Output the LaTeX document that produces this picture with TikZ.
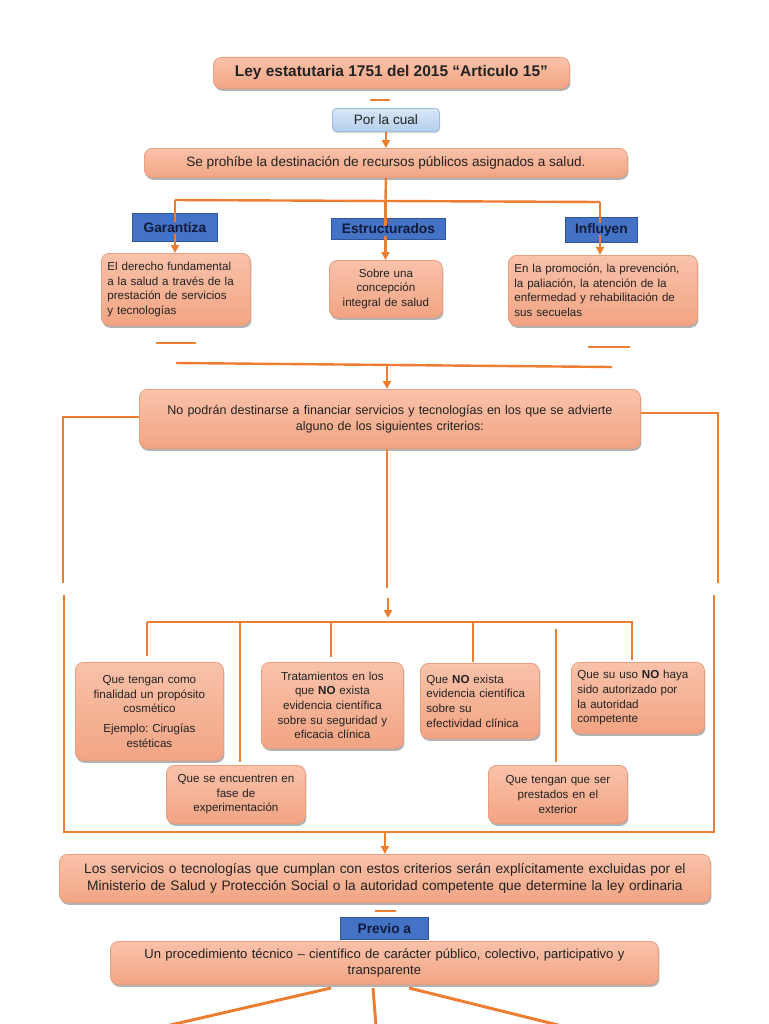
\documentclass[tikz,border=0pt]{standalone}
\usepackage{fontspec}
\setmainfont{Liberation Sans}
\usetikzlibrary{arrows.meta,shadows,calc}
\definecolor{lor}{HTML}{ED7D31}
\definecolor{boxtop}{HTML}{F9C2AA}
\definecolor{boxbot}{HTML}{F2A483}
\definecolor{boxdraw}{HTML}{E89E80}
\definecolor{bluef}{HTML}{4472C4}
\definecolor{blued}{HTML}{2F5597}
\definecolor{bluet}{HTML}{111B3D}
\definecolor{lbtop}{HTML}{D9E7F8}
\definecolor{lbbot}{HTML}{B3CEEC}
\definecolor{lbdraw}{HTML}{9BBCE3}
\definecolor{txt}{HTML}{222222}
\def\pxu{0.75pt}
\frenchspacing
\newcommand\fsmall{\fontsize{8.7}{11}\selectfont}
\newcommand\fmid{\fontsize{10.2}{12.5}\selectfont}
\newcommand\fnp{\fontsize{9.4}{11.8}\selectfont}
\newcommand\fls{\fontsize{10.3}{12.8}\selectfont}
\newcommand\fup{\fontsize{9.8}{12.5}\selectfont}
\newcommand\flab{\fontsize{10.3}{12}\selectfont\bfseries}
\newcommand\ftitle{\fontsize{11.6}{13}\selectfont\bfseries}
\begin{document}
\begin{tikzpicture}[x=0.75pt,y=-0.75pt,
  pbox/.style={draw=boxdraw, line width=0.6pt, top color=boxtop, bottom color=boxbot,
    rounded corners=6pt, text=txt, inner xsep=6*\pxu, inner ysep=0pt, anchor=north west,
    drop shadow={shadow xshift=0.8pt, shadow yshift=-1.8pt, fill=black!55, opacity=0.55}},
  lbox/.style={draw=lbdraw, line width=0.6pt, top color=lbtop, bottom color=lbbot,
    rounded corners=3pt, text=txt, inner sep=0pt, anchor=north west, font=\fmid,
    drop shadow={shadow xshift=0.5pt, shadow yshift=-1.2pt, fill=black!40, opacity=0.4}},
  blab/.style={draw=blued, line width=0.6pt, fill=bluef, text=bluet, inner sep=0pt,
    anchor=north west, font=\flab},
  con/.style={draw=lor, line width=1.8pt},
  arr/.style={con, -{Triangle[length=6pt,width=6pt]}}
]
\fill[white] (0,0) rectangle (768,1024);
\useasboundingbox (0,0) rectangle (768,1024);

% ---- top part
\node[pbox, font=\ftitle, minimum width=356*\pxu, minimum height=31*\pxu] (t) at (213,57)
  {Ley estatutaria 1751 del 2015 “Articulo 15”};
\coordinate (d1a) at (370,100); \coordinate (d1b) at (390,100);
\draw[con] (d1a) -- (d1b);
\node[lbox, minimum width=107*\pxu, minimum height=23*\pxu] (pc) at (332,108) {Por la cual};
\node[pbox, font=\fmid, minimum width=483*\pxu, minimum height=29*\pxu] (sp) at (144,148)
  {Se prohíbe la destinación de recursos públicos asignados a salud.};
\draw[arr] (pc.south) -- (sp.north);

\node[blab, minimum width=85*\pxu, minimum height=28*\pxu] (gar) at (132,213) {Garantiza};
\node[blab, minimum width=114*\pxu, minimum height=21*\pxu] (est) at (331,218) {Estructurados};
\node[blab, minimum width=72*\pxu, minimum height=25*\pxu] (inf) at (565,217) {Influyen};

\node[pbox, font=\fsmall, minimum width=149*\pxu, minimum height=72*\pxu, text width=137*\pxu, align=left] (b1) at (101,253)
  {El derecho fundamental\\a la salud a través de la\\prestación de servicios\\y tecnologías};
\node[pbox, font=\fsmall, minimum width=113*\pxu, minimum height=57*\pxu, text width=101*\pxu, align=center] (b2) at (329,260)
  {Sobre una\\concepción\\integral de salud};
\node[pbox, font=\fsmall, minimum width=189*\pxu, minimum height=70*\pxu, text width=177*\pxu, align=left] (b3) at (508,255)
  {En la promoción, la prevención,\\la paliación, la atención de la\\enfermedad y rehabilitación de\\sus secuelas};

\coordinate (j1) at (385.5,201);
\coordinate (hl) at (175,200);
\coordinate (hr) at (600,202);
\draw[con] (sp.south) -- (j1);
\draw[con] (hl) -- (hr);
\coordinate (g1) at (175,222); \coordinate (g2) at (175,234);
\draw[con] (hl) -- (g1);
\draw[arr] (g2) -- (b1.north -| g2);
\coordinate (e1) at (385.5,226); \coordinate (e2) at (385.5,236);
\draw[con] (j1) -- (e1);
\draw[arr] (e2) -- (b2.north -| e2);
\coordinate (i1) at (600,223); \coordinate (i2) at (600,235);
\draw[con] (hr) -- (i1);
\draw[arr] (i2) -- (b3.north -| i2);

% ---- middle part
\coordinate (d2a) at (156,343); \coordinate (d2b) at (196,343);
\draw[con] (d2a) -- (d2b);
\coordinate (d3a) at (588,347); \coordinate (d3b) at (630,347);
\draw[con] (d3a) -- (d3b);
\coordinate (k1) at (176,363); \coordinate (k2) at (612,367);
\draw[con] (k1) -- (k2);

\node[pbox, font=\fnp, minimum width=501*\pxu, minimum height=59*\pxu, text width=489*\pxu, align=center] (np) at (139,389)
  {No podrán destinarse a financiar servicios y tecnologías en los que se advierte\\alguno de los siguientes criterios:};
\coordinate (k3) at (387,365);
\draw[arr] (k3) -- (np.north -| k3);

% frame
\coordinate (fl1) at (63,417); \coordinate (fl2) at (63,583);
\coordinate (fl3) at (64,595); \coordinate (fb1) at (64,832);
\coordinate (fb2) at (714,832); \coordinate (fr3) at (714,595);
\coordinate (fr2) at (718,583); \coordinate (fr1) at (718,413);
\draw[con] (np.west |- fl1) -- (fl1) -- (fl2);
\draw[con] (fl3) -- (fb1) -- (fb2) -- (fr3);
\draw[con] (fr2) -- (fr1) -- (np.east |- fr1);

\coordinate (m1) at (387,588);
\draw[con] (np.south -| m1) -- (m1);
\coordinate (m2) at (388,598);
\coordinate (br1) at (147,622); \coordinate (br2) at (633,622);
\draw[arr] (m2) -- ($(m2 |- br1)+(0,-4)$);
\draw[con] (br1) -- (br2);

\node[pbox, font=\fsmall, minimum width=148*\pxu, minimum height=98*\pxu, text width=136*\pxu, align=center] (ca) at (75,662)
  {Que tengan como\\finalidad un propósito\\cosmético\\[4pt]Ejemplo: Cirugías\\estéticas};
\node[pbox, font=\fsmall, minimum width=142*\pxu, minimum height=86*\pxu, text width=130*\pxu, align=center] (cb) at (261,662)
  {Tratamientos en los\\que \textbf{NO} exista\\evidencia científica\\sobre su seguridad y\\eficacia clínica};
\node[pbox, font=\fsmall, minimum width=119*\pxu, minimum height=75*\pxu, text width=107*\pxu, align=left] (cc) at (420,663)
  {Que \textbf{NO} exista\\evidencia científica\\sobre su\\efectividad clínica};
\node[pbox, font=\fsmall, minimum width=133*\pxu, minimum height=71*\pxu, text width=121*\pxu, align=left] (cd) at (571,662)
  {Que su uso \textbf{NO} haya\\sido autorizado por\\la autoridad\\competente};
\node[pbox, font=\fsmall, minimum width=139*\pxu, minimum height=58*\pxu, text width=127*\pxu, align=center] (ce) at (166,765)
  {Que se encuentren en\\fase de\\experimentación};
\node[pbox, font=\fsmall, minimum width=139*\pxu, minimum height=58*\pxu, text width=127*\pxu, align=center] (cf) at (488,765)
  {Que tengan que ser\\prestados en el\\exterior};

\coordinate (q1) at (147,622); \coordinate (q2) at (240,622); \coordinate (q3) at (331,622);
\coordinate (q4) at (473,622); \coordinate (q5) at (556,629); \coordinate (q6) at (632,622);
\draw[con] (q1) -- ($(q1 |- ca.north)+(0,-6)$);
\draw[con] (q2) -- ($(q2 |- ce.north)+(0,-3)$);
\draw[con] (q3) -- ($(q3 |- cb.north)+(0,-5)$);
\draw[con] (q4) -- ($(q4 |- cc.north)+(0,-1)$);
\draw[con] (q5) -- ($(q5 |- cf.north)+(0,-3)$);
\draw[con] (q6) -- ($(q6 |- cd.north)+(0,-2)$);

% ---- bottom part
\node[pbox, font=\fls, minimum width=651*\pxu, minimum height=48*\pxu, text width=639*\pxu, align=center] (ls) at (59,854)
  {Los servicios o tecnologías que cumplan con estos criterios serán explícitamente excluidas por el\\Ministerio de Salud y Protección Social o la autoridad competente que determine la ley ordinaria};
\draw[arr] (ls.north |- fb1) -- (ls.north);
\coordinate (d4a) at (375,911); \coordinate (d4b) at (396,911);
\draw[con] (d4a) -- (d4b);
\node[blab, minimum width=88*\pxu, minimum height=22*\pxu] (pa) at (340,917) {Previo a};
\node[pbox, font=\fup, minimum width=548*\pxu, minimum height=43*\pxu, text width=536*\pxu, align=center] (up) at (110,941)
  {Un procedimiento técnico – científico de carácter público, colectivo, participativo y\\transparente};
\coordinate (u1) at (331,988); \coordinate (v1) at (166,1026);
\coordinate (u2) at (373,988); \coordinate (v2) at (376,1026);
\coordinate (u3) at (409,988); \coordinate (v3) at (562,1026);
\draw[con, line width=2.2pt] (u1) -- (v1);
\draw[con, line width=2.2pt] (u2) -- (v2);
\draw[con, line width=2.2pt] (u3) -- (v3);
\end{tikzpicture}
\end{document}
